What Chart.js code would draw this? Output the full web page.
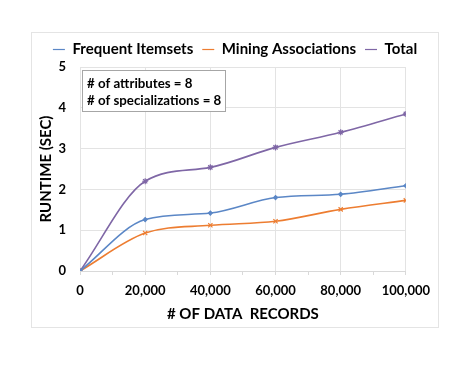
<!DOCTYPE html>
<html>
<head>
<meta charset="utf-8">
<script src="https://cdn.jsdelivr.net/npm/chart.js@4"></script>
<style>
  body { margin: 0; background: #fff; }
  #frame {
    position: absolute; left: 31px; top: 32px;
    width: 406px; height: 294px;
    border: 1px solid #e4e4e4;
  }
</style>
</head>
<body>
<div id="frame"><canvas id="chart" width="406" height="294"></canvas></div>
<script>
// data
const records = [0, 20000, 40000, 60000, 80000, 100000];
const frequentItemsets = [0, 1.26, 1.42, 1.80, 1.88, 2.09];
const miningAssociations = [0, 0.93, 1.12, 1.22, 1.51, 1.73];
const total = [0, 2.20, 2.54, 3.03, 3.40, 3.85];
const noteLines = ['# of attributes = 8', '# of specializations = 8'];

const FONT = 'Lato, "Open Sans", sans-serif';

const toPoints = ys => ys.map((y, i) => ({ x: records[i], y: y }));

// text box in the upper left corner
const noteBox = {
    id: 'noteBox',
    afterDatasetsDraw(chart) {
        const ctx = chart.ctx;
        const area = chart.chartArea;
        const x = area.left + 2, y = area.top + 3;
        ctx.save();
        ctx.fillStyle = '#fff';
        ctx.strokeStyle = '#a6a6a6';
        ctx.lineWidth = 1;
        ctx.fillRect(x, y, 143, 41);
        ctx.strokeRect(x + 0.5, y + 0.5, 143, 41);
        ctx.fillStyle = '#000';
        ctx.font = 'bold 13.3px ' + FONT;
        ctx.textBaseline = 'alphabetic';
        noteLines.forEach((t, i) => ctx.fillText(t, x + 5, y + 18 + i * 16.5));
        ctx.restore();
    }
};

new Chart(document.getElementById('chart'), {
    type: 'line',
    data: {
        datasets: [
            {
                label: 'Frequent Itemsets',
                data: toPoints(frequentItemsets),
                borderColor: '#5b87c6',
                backgroundColor: '#5b87c6',
                pointStyle: 'rectRot',
                pointRadius: 2
            },
            {
                label: 'Mining Associations',
                data: toPoints(miningAssociations),
                borderColor: '#ed7d31',
                backgroundColor: '#ed7d31',
                pointStyle: 'crossRot',
                pointRadius: 3
            },
            {
                label: 'Total',
                data: toPoints(total),
                borderColor: '#7f67a6',
                backgroundColor: '#7f67a6',
                pointStyle: 'star',
                pointRadius: 3
            }
        ]
    },
    options: {
        responsive: false,
        animation: false,
        elements: {
            line: { borderWidth: 1.6, tension: 0.4, cubicInterpolationMode: 'monotone' },
            point: { borderWidth: 1.2 }
        },
        plugins: {
            legend: {
                position: 'top',
                labels: {
                    color: '#000',
                    font: { family: FONT, size: 15, weight: 'bold' },
                    usePointStyle: true,
                    pointStyle: 'line',
                    pointStyleWidth: 12,
                    boxWidth: 12,
                    padding: 9
                }
            },
            tooltip: { enabled: false }
        },
        scales: {
            x: {
                type: 'linear',
                min: 0,
                max: 100000,
                ticks: {
                    stepSize: 10000,
                    color: '#000',
                    font: { family: FONT, size: 13, weight: 'bold' },
                    maxRotation: 0,
                    autoSkip: false,
                    padding: 8,
                    callback: v => v % 20000 === 0 ? v.toLocaleString('en-US') : ''
                },
                grid: {
                    color: c => c.tick && c.tick.value % 20000 === 0 ? '#e3e3e3' : 'rgba(0,0,0,0)',
                    tickColor: '#d9d9d9',
                    tickLength: 4
                },
                border: { color: '#d9d9d9' },
                title: {
                    display: true,
                    text: '# OF DATA  RECORDS',
                    color: '#000',
                    font: { family: FONT, size: 15, weight: 'bold' },
                    padding: { top: 6 }
                },
                afterFit: s => { s.height = 56; }
            },
            y: {
                min: 0,
                max: 5,
                ticks: {
                    stepSize: 1,
                    color: '#000',
                    font: { family: FONT, size: 13, weight: 'bold' },
                    padding: 14
                },
                grid: { color: '#e3e3e3', drawTicks: false },
                border: { display: false },
                title: {
                    display: true,
                    text: 'RUNTIME (SEC)',
                    color: '#000',
                    font: { family: FONT, size: 15, weight: 'bold' },
                    padding: { top: 5, bottom: 0 }
                },
                afterFit: s => { s.width = 48; }
            },
            // empty right axis, only keeps space on the right of the plot
            yRight: {
                position: 'right',
                min: 0,
                max: 5,
                ticks: { display: false },
                grid: { display: false },
                border: { display: false },
                afterFit: s => { s.width = 28; }
            }
        }
    },
    plugins: [noteBox]
});
</script>
</body>
</html>
